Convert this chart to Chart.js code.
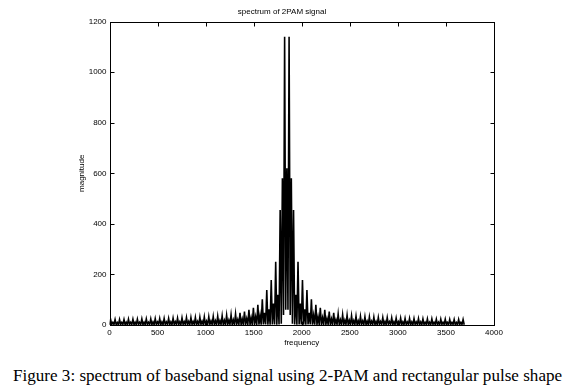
<!DOCTYPE html>
<html>
<head>
<meta charset="utf-8">
<script src="https://cdn.jsdelivr.net/npm/chart.js@4"></script>
<style>
    html, body { margin: 0; padding: 0; background: #fff; }
    #wrap { position: relative; width: 575px; height: 391px; overflow: hidden; }
    #chart { position: absolute; left: 0; top: 0; }
    #caption {
        position: absolute; left: 13px; top: 366px;
        font-family: "Liberation Serif", "DejaVu Serif", serif;
        font-size: 15px; color: #000; white-space: nowrap;
    }
</style>
</head>
<body>
<div id="wrap">
    <canvas id="chart" width="575" height="355"></canvas>
    <div id="caption">Figure 3: spectrum of baseband signal using 2-PAM and rectangular pulse shape</div>
</div>
<script>
// Texts
const chartTitle = 'spectrum of 2PAM signal';
const xTitle = 'frequency';
const yTitle = 'magnitude';

// Axis ranges / tick steps
const xTicks = [0, 500, 1000, 1500, 2000, 2500, 3000, 3500, 4000];
const yTicks = [0, 200, 400, 600, 800, 1000, 1200];

// frequency bins (Hz) of the FFT
const binStart = 0;
const binStep = 11.604;

// magnitude, bins 0..159 (up to the centre of the band)
const magLower = [
    1, 22, 2, 10,   2, 22, 1, 10,   1, 22, 2, 10,   2, 22, 1, 11,
    1, 23, 2, 11,   2, 23, 1, 11,   1, 23, 2, 11,   2, 24, 1, 11,
    1, 24, 2, 11,   2, 24, 1, 12,   1, 25, 2, 12,   2, 25, 1, 12,
    1, 26, 2, 12,   2, 26, 1, 12,   1, 27, 2, 13,   2, 27, 1, 13,
    1, 28, 2, 13,   2, 29, 1, 14,   1, 29, 2, 14,   2, 30, 1, 14,
    1, 31, 2, 15,   2, 32, 1, 15,   1, 33, 2, 16,   2, 34, 1, 16,
    1, 35, 2, 17,   2, 37, 1, 18,   1, 39, 2, 19,   2, 41, 1, 20,
    1, 44, 2, 21,   2, 48, 1, 23,   1, 53, 2, 25,   2, 60, 1, 28,
    1, 68, 2, 32,   2, 80, 1, 38,   1, 102, 2, 48,  2, 138, 1, 62,
    1, 178, 2, 85,  2, 250, 1, 120, 2, 455, 5, 580, 40, 1140, 60, 620
];

// magnitude, bins 160..318
const magUpper = [
    60, 1140, 40, 580, 5, 455, 2, 120,  1, 250, 2, 85,   2, 178, 1, 62,
    1, 138, 2, 48,   2, 102, 1, 38,   1, 80, 2, 32,   2, 68, 1, 28,
    1, 60, 2, 25,    2, 53, 1, 23,    1, 48, 2, 21,   2, 44, 1, 20,
    1, 41, 2, 19,    2, 39, 1, 18,    1, 37, 2, 17,   2, 35, 1, 16,
    1, 34, 2, 16,    2, 33, 1, 15,    1, 32, 2, 15,   2, 31, 1, 14,
    1, 30, 2, 14,    2, 29, 1, 14,    1, 29, 2, 13,   2, 28, 1, 13,
    1, 27, 2, 13,    2, 27, 1, 12,    1, 26, 2, 12,   2, 26, 1, 12,
    1, 25, 2, 12,    2, 25, 1, 12,    1, 24, 2, 11,   2, 24, 1, 11,
    1, 24, 2, 11,    2, 23, 1, 11,    1, 23, 2, 11,   2, 23, 1, 10,
    1, 22, 2, 10,    2, 22, 1, 10,    1, 22, 2, 10,   2, 22, 1
];

const magnitude = magLower.concat(magUpper);
const points = magnitude.map((m, i) => ({ x: binStart + i * binStep, y: m }));

// matlab style box with inward ticks on all four sides
const boxPlugin = {
    id: 'box',
    afterDatasetsDraw(chart) {
        const { ctx, chartArea: a, scales } = chart;
        const L = Math.round(a.left) + 0.5, R = Math.round(a.right) + 0.5;
        const T = Math.round(a.top) + 0.5, B = Math.round(a.bottom) + 0.5;
        const len = 4;
        ctx.save();
        ctx.strokeStyle = '#000';
        ctx.lineWidth = 1;
        ctx.strokeRect(L, T, R - L, B - T);
        ctx.beginPath();
        scales.x.ticks.forEach(t => {
            const px = Math.round(scales.x.getPixelForValue(t.value)) + 0.5;
            ctx.moveTo(px, B); ctx.lineTo(px, B - len);
            ctx.moveTo(px, T); ctx.lineTo(px, T + len);
        });
        scales.y.ticks.forEach(t => {
            const py = Math.round(scales.y.getPixelForValue(t.value)) + 0.5;
            ctx.moveTo(L, py); ctx.lineTo(L + len, py);
            ctx.moveTo(R, py); ctx.lineTo(R - len, py);
        });
        ctx.stroke();
        ctx.restore();
    }
};

Chart.defaults.font.family = '"Liberation Sans", Arial, sans-serif';
Chart.defaults.font.size = 8;
Chart.defaults.color = '#000';

new Chart(document.getElementById('chart'), {
    type: 'line',
    data: {
        datasets: [{
            data: points,
            borderColor: '#000',
            borderWidth: 1.6,
            pointRadius: 0,
            tension: 0,
            fill: false
        }]
    },
    options: {
        responsive: false,
        animation: false,
        events: [],
        layout: { padding: { left: 70, right: 81, top: 0, bottom: 0 } },
        plugins: {
            legend: { display: false },
            tooltip: { enabled: false },
            title: {
                display: true,
                text: chartTitle,
                font: { size: 8, weight: 'normal' },
                padding: { top: 7, bottom: 5 }
            }
        },
        scales: {
            x: {
                type: 'linear',
                min: xTicks[0],
                max: xTicks[xTicks.length - 1],
                afterBuildTicks: s => { s.ticks = xTicks.map(v => ({ value: v })); },
                ticks: { padding: 3, maxRotation: 0, autoSkip: false, callback: v => String(v) },
                grid: { display: false, drawTicks: false },
                border: { display: false },
                title: { display: true, text: xTitle, font: { size: 8 }, padding: { top: 0, bottom: 7 } },
                afterFit: s => { s.height = 30; }
            },
            y: {
                min: yTicks[0],
                max: yTicks[yTicks.length - 1],
                afterBuildTicks: s => { s.ticks = yTicks.map(v => ({ value: v })); },
                ticks: { padding: 3, autoSkip: false, callback: v => String(v) },
                grid: { display: false, drawTicks: false },
                border: { display: false },
                title: { display: true, text: yTitle, font: { size: 8 }, padding: { top: 7, bottom: 0 } },
                afterFit: s => { s.width = 39.5; }
            }
        }
    },
    plugins: [boxPlugin]
});

// fit caption to the width it has in the figure
const cap = document.getElementById('caption');
const capWidth = cap.getBoundingClientRect().width;
cap.style.fontSize = (15 * 549 / capWidth).toFixed(2) + 'px';
</script>
</body>
</html>
